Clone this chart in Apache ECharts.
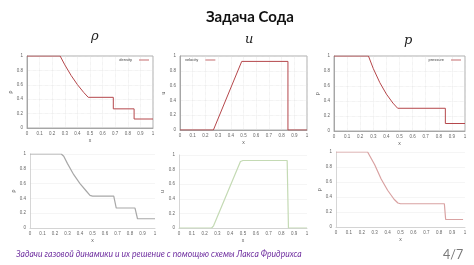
<!DOCTYPE html>
<html><head><meta charset="utf-8">
<script src="https://cdn.jsdelivr.net/npm/echarts@6/dist/echarts.min.js"></script>
<style>html,body{margin:0;padding:0;background:#fff}#c{width:474px;height:265px}</style>
</head><body><div id="c"></div>
<script>
// Exact (top row) profiles
const densX = [0, 0.263, 0.30, 0.35, 0.40, 0.45, 0.486, 0.685, 0.685, 0.85, 0.85, 1];
const densY = [1, 1, 0.877, 0.730, 0.603, 0.494, 0.426, 0.426, 0.266, 0.266, 0.125, 0.125];
const velX = [0, 0.263, 0.486, 0.85, 0.85, 1];
const velY = [0, 0, 0.927, 0.927, 0, 0];
const presX = [0, 0.263, 0.30, 0.35, 0.40, 0.45, 0.486, 0.85, 0.85, 1];
const presY = [1, 1, 0.832, 0.644, 0.492, 0.372, 0.303, 0.303, 0.1, 0.1];
// Numerical (bottom row) profiles
const numDensX = [0, 0.25, 0.27, 0.30, 0.35, 0.40, 0.45, 0.48, 0.50, 0.67, 0.69, 0.84, 0.86, 1];
const numDensY = [1, 1, 0.97, 0.87, 0.72, 0.60, 0.50, 0.44, 0.43, 0.43, 0.27, 0.27, 0.125, 0.125];
const numVelX = [0, 0.255, 0.27, 0.48, 0.50, 0.845, 0.855, 1];
const numVelY = [0, 0, 0.03, 0.91, 0.925, 0.925, 0, 0];
const numPresX = [0, 0.245, 0.26, 0.30, 0.35, 0.40, 0.45, 0.48, 0.50, 0.84, 0.85, 0.985];
const numPresY = [1, 1, 0.98, 0.83, 0.64, 0.49, 0.37, 0.32, 0.31, 0.31, 0.1, 0.1];
const legendNames = ['density', 'velocity', 'pressure'];
const yNames = ['\u03c1', 'u', 'p'];

const zip = (a, b) => a.map((v, i) => [v, b[i]]);
const fmt = v => (v === 0 || v === 1) ? String(v) : String(+v.toFixed(1));

const grids = [
  {left: 27, top: 56, width: 126, height: 72},
  {left: 180, top: 56, width: 127, height: 74},
  {left: 334, top: 56, width: 131, height: 75},
  {left: 30, top: 154, width: 125, height: 74},
  {left: 179, top: 155, width: 128, height: 73},
  {left: 336, top: 152, width: 129, height: 75}
];
const topCol = '#b5474b';
const botCols = ['#a8a8a8', '#c4dab4', '#d9a2a2'];
const data = [
  zip(densX, densY), zip(velX, velY), zip(presX, presY),
  zip(numDensX, numDensY), zip(numVelX, numVelY), zip(numPresX, numPresY)
];

const xAxis = [], yAxis = [], series = [], legend = [];
grids.forEach((g, i) => {
  const top = i < 3;
  g.show = top; g.borderColor = '#999'; g.borderWidth = 0.8; g.containLabel = false;
  xAxis.push({
    type: 'value', gridIndex: i, min: 0, max: 1, interval: 0.1,
    name: 'x', nameLocation: 'middle', nameGap: 10,
    nameTextStyle: {fontSize: 5, color: '#555'},
    axisLine: {show: true, lineStyle: {color: top ? '#999' : '#ccc', width: 0.8}},
    axisTick: {show: false},
    axisLabel: {fontSize: 4.5, color: '#666', margin: 3, formatter: fmt},
    splitLine: {show: top, lineStyle: {color: '#ddd', type: 'dotted', width: 0.6}}
  });
  yAxis.push({
    type: 'value', gridIndex: i, min: 0, max: 1, interval: 0.2,
    name: yNames[i % 3], nameLocation: 'middle', nameGap: 14,
    nameTextStyle: {fontSize: 5, color: '#555'},
    axisLine: {show: true, lineStyle: {color: top ? '#999' : '#ccc', width: 0.8}},
    axisTick: {show: false},
    axisLabel: {fontSize: 4.5, color: '#666', margin: 4, formatter: fmt},
    splitLine: {show: true, lineStyle: {color: top ? '#ddd' : '#eee', type: top ? 'dotted' : 'solid', width: 0.6}}
  });
  series.push({
    type: 'line', name: top ? legendNames[i] : 'num' + i, xAxisIndex: i, yAxisIndex: i,
    data: data[i], showSymbol: false, animation: false,
    lineStyle: {color: top ? topCol : botCols[i - 3], width: top ? 1 : 1.2},
    itemStyle: {color: top ? topCol : botCols[i - 3]}
  });
  if (top) {
    const leg = {
      data: [legendNames[i]], top: g.top + 2, itemWidth: 10, itemHeight: 0.8, itemGap: 0,
      icon: 'rect', textStyle: {fontSize: 4, color: '#444', padding: [0, 2, 0, 2]}, padding: 0
    };
    if (i === 1) { leg.left = g.left + 5; leg.align = 'right'; }
    else { leg.right = 474 - (g.left + g.width) + 4; leg.align = 'right'; }
    legend.push(leg);
  }
});

const chart = echarts.init(document.getElementById('c'), null, {renderer: 'canvas'});
chart.setOption({
  backgroundColor: '#fff',
  animation: false,
  title: [
    {text: 'Задача Сода', left: 201, top: 5, textStyle: {fontFamily: 'Lato', fontWeight: 'bold', fontSize: 15, color: '#111'}},
    {text: '\u03c1', left: 86, top: 25, textStyle: {fontFamily: 'DejaVu Serif', fontStyle: 'italic', fontWeight: 'normal', fontSize: 13, color: '#222'}},
    {text: 'u', left: 240, top: 28, textStyle: {fontFamily: 'DejaVu Serif', fontStyle: 'italic', fontWeight: 'normal', fontSize: 13, color: '#222'}},
    {text: 'p', left: 399, top: 29, textStyle: {fontFamily: 'DejaVu Serif', fontStyle: 'italic', fontWeight: 'normal', fontSize: 13, color: '#222'}},
    {text: 'Задачи газовой динамики и их решение с помощью схемы Лакса Фридрихса', left: 11, top: 245,
     textStyle: {fontFamily: 'Lato', fontStyle: 'italic', fontWeight: 'normal', fontSize: 8.6, color: '#7030a0'}},
    {text: '4/7', left: 438, top: 243, textStyle: {fontFamily: 'Lato', fontWeight: 'normal', fontSize: 12.5, color: '#777'}}
  ],
  legend: legend,
  grid: grids,
  xAxis: xAxis,
  yAxis: yAxis,
  series: series
});
</script></body></html>
